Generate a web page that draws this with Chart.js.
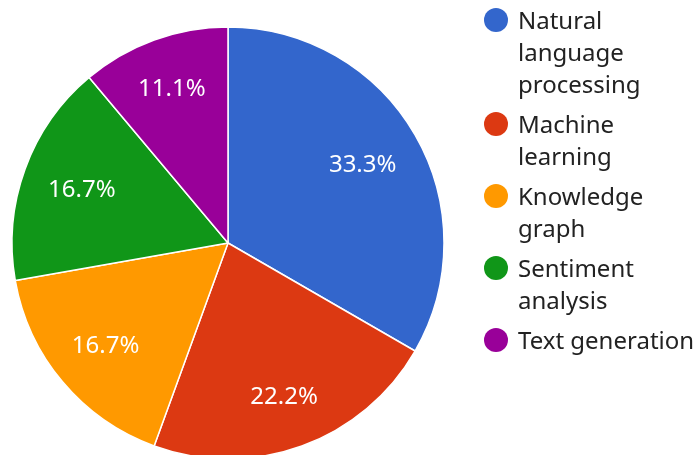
<!DOCTYPE html>
<html><head><meta charset="utf-8">
<script src="https://cdn.jsdelivr.net/npm/chart.js@4.4.1/dist/chart.umd.min.js"></script>
<style>
html,body{margin:0;padding:0;background:#fff;overflow:hidden;width:699px;height:455px;}
#wrap{position:absolute;left:0;top:0;width:699px;height:486px;}
#legend{position:absolute;left:484px;top:4px;font-family:"Noto Sans";font-size:24px;color:#222;line-height:32px;white-space:nowrap;}
.item{position:relative;padding-left:34px;margin-bottom:8px;}
.dot{position:absolute;left:0;top:4px;width:24px;height:24px;border-radius:50%;}
</style></head>
<body>
<div id="wrap"><canvas id="c"></canvas></div>
<div id="legend"></div>
<script>
const categories = ["Natural language processing","Machine learning","Knowledge graph","Sentiment analysis","Text generation"];
const legendLines = [["Natural","language","processing"],["Machine","learning"],["Knowledge","graph"],["Sentiment","analysis"],["Text generation"]];
const values = [6,4,3,3,2];
const colors = ["#3366cc","#dc3912","#ff9900","#109618","#990099"];

const lg = document.getElementById('legend');
categories.forEach((c,i)=>{
  const d=document.createElement('div');d.className='item';
  const s=document.createElement('span');s.className='dot';s.style.background=colors[i];
  d.appendChild(s);
  legendLines[i].forEach((t,j)=>{ if(j) d.appendChild(document.createElement('br')); d.appendChild(document.createTextNode(t)); });
  lg.appendChild(d);
});

const labelRatio=[0.72,0.76,0.74,0.72,0.76];
const labelPlugin={id:'lbl',afterDatasetsDraw(chart){
  const ctx=chart.ctx;const meta=chart.getDatasetMeta(0);
  const total=values.reduce((a,b)=>a+b,0);
  ctx.save();ctx.fillStyle='#fff';ctx.font='24px "Noto Sans"';ctx.textAlign='center';ctx.textBaseline='middle';
  meta.data.forEach((arc,i)=>{
    const mid=(arc.startAngle+arc.endAngle)/2;const r=arc.outerRadius*labelRatio[i];
    ctx.fillText((values[i]/total*100).toFixed(1)+'%',arc.x+Math.cos(mid)*r,arc.y+Math.sin(mid)*r);
  });
  ctx.restore();
}};

new Chart(document.getElementById('c'),{
  type:'pie',
  data:{labels:categories,datasets:[{data:values,backgroundColor:colors,borderColor:'#fff',borderWidth:1.5,hoverOffset:0}]},
  options:{responsive:true,maintainAspectRatio:false,animation:false,radius:216,
    layout:{padding:{left:0,top:0,bottom:0,right:243}},
    plugins:{legend:{display:false},tooltip:{enabled:false}}},
  plugins:[labelPlugin]
});
</script>
</body></html>
